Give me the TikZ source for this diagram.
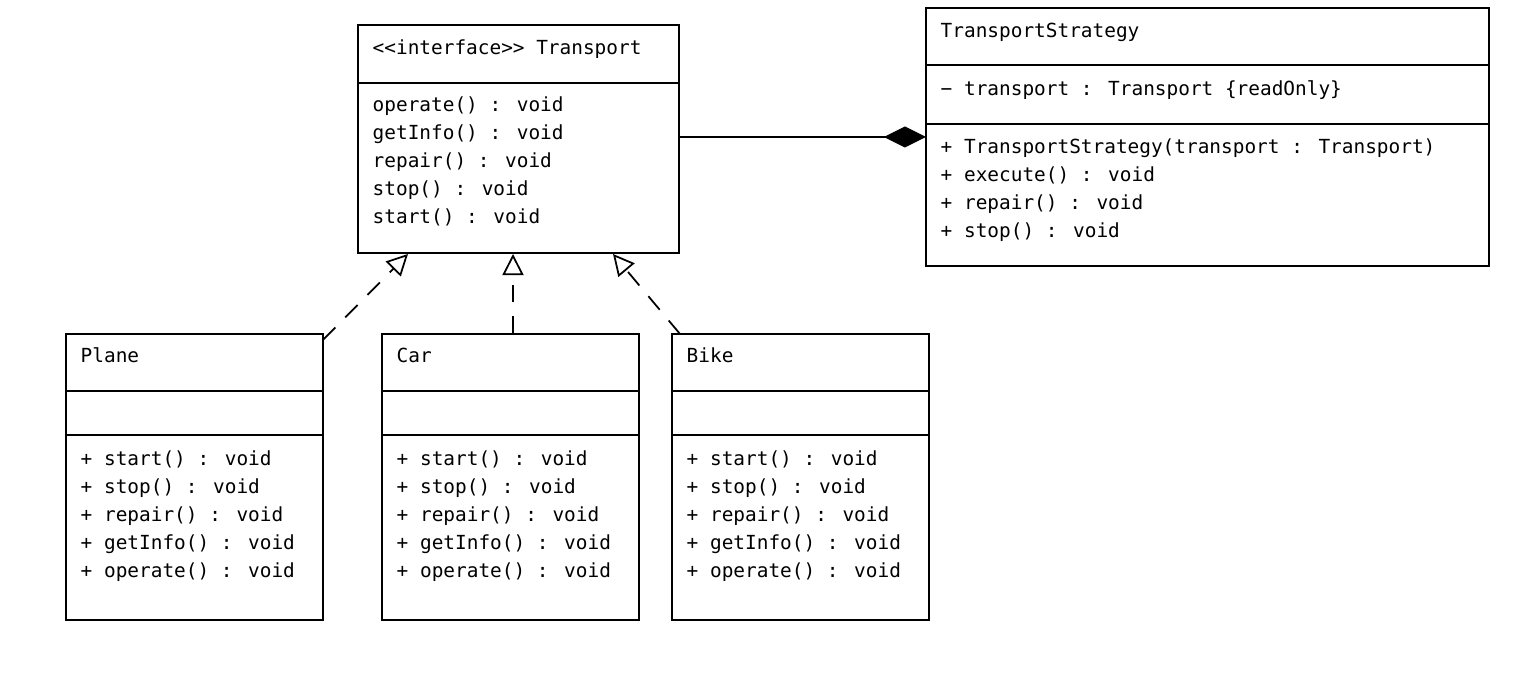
\documentclass[tikz,border=0pt]{standalone}
\usepackage{fontspec}
\setmainfont{DejaVu Sans Mono}
\usetikzlibrary{arrows.meta,positioning}
\begin{document}
\begin{tikzpicture}[x=0.01cm,y=-0.01cm]
    % Define styles
    \tikzset{
        box/.style={draw=black, line width=0.6pt},
        txt/.style={anchor=north west, inner sep=0pt, align=left, font=\fontsize{5.52pt}{7.97pt}\selectfont},
        realize/.style={dashed, dash pattern=on 5pt off 4pt, line width=0.5pt, -{Triangle[open,length=6pt,width=6pt]}},
        compose/.style={line width=0.6pt, -{Diamond[length=12pt,width=6pt]}}
    }
    \useasboundingbox (0,0) rectangle (1536,683);

    % Boxes
    \draw[box] (358,25) rectangle (679,253);
    \draw[box] (358,83) -- (679,83);
    \draw[box] (926,8) rectangle (1489,266);
    \draw[box] (926,65) -- (1489,65);
    \draw[box] (926,124) -- (1489,124);
    \foreach \x in {66,382,672} {
        \draw[box] (\x,334) rectangle ({\x+257},620);
        \draw[box] (\x,391) -- ({\x+257},391);
        \draw[box] (\x,435) -- ({\x+257},435);
    }

    % Nodes
    \node[txt] (transport_name) at (372,39) {{<}{<}interface{>}{>} Transport};
    \node[txt] (transport_ops) at (372,96) {operate() : void\\getInfo() : void\\repair() : void\\stop() : void\\start() : void};
    \node[txt] (strategy_name) at (940,22) {TransportStrategy};
    \node[txt] (strategy_attr) at (940,80) {− transport : Transport \{readOnly\}};
    \node[txt] (strategy_ops) at (940,138) {+ TransportStrategy(transport : Transport)\\+ execute() : void\\+ repair() : void\\+ stop() : void};
    \foreach \x/\n in {80/Plane,396/Car,686/Bike} {
        \node[txt] (\n_name) at (\x,347) {\n};
        \node[txt] (\n_ops) at (\x,450) {+ start() : void\\+ stop() : void\\+ repair() : void\\+ getInfo() : void\\+ operate() : void};
    }

    % Connection points
    \coordinate (transport_r) at (679,137);
    \coordinate (strategy_l) at (926,137);
    \coordinate (transport_b1) at (408,254);
    \coordinate (transport_b2) at (513,254);
    \coordinate (transport_b3) at (613,254);
    \coordinate (plane_t) at (323,340);
    \coordinate (car_t) at (513,334);
    \coordinate (bike_t) at (680,334);

    % Connections
    \draw[compose] (transport_r) -- (strategy_l);
    \draw[realize] (plane_t) -- (transport_b1);
    \draw[realize] (car_t) -- (transport_b2);
    \draw[realize] (bike_t) -- (transport_b3);
\end{tikzpicture}
\end{document}
